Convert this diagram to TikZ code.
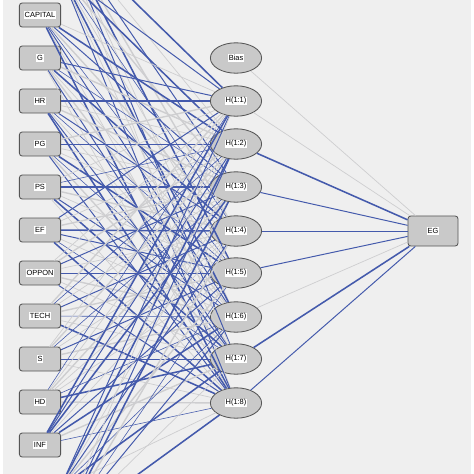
\documentclass[tikz,border=0pt]{standalone}
\usepackage{fontspec}
\setmainfont{Liberation Sans}
\usetikzlibrary{shapes.geometric}

\definecolor{bggray}{RGB}{239,239,239}
\definecolor{boxgray}{RGB}{201,201,201}
\definecolor{rimgray}{RGB}{85,85,85}
\definecolor{wblue}{RGB}{68,90,172}
\definecolor{wgray}{RGB}{206,206,208}

\newcommand{\lab}[1]{{\setlength{\fboxsep}{0.7pt}\colorbox{white}{#1}}}

\tikzset{
  inbox/.style={draw=rimgray, fill=boxgray, rounded corners=2pt, line width=0.6pt,
    minimum width=1.03cm, minimum height=0.6cm, inner sep=0pt},
  hid/.style={ellipse, draw=rimgray, fill=boxgray, line width=0.6pt,
    minimum width=1.28cm, minimum height=0.76cm, inner sep=0pt},
  outbox/.style={inbox, minimum width=1.25cm, minimum height=0.75cm},
  bthick/.style={draw=wblue, line width=1.1pt},
  bmid/.style={draw=wblue, line width=0.7pt},
  bthin/.style={draw=wblue, line width=0.4pt},
  gthick/.style={draw=wgray, line width=1pt},
  gthin/.style={draw=wgray, line width=0.5pt}
}

\begin{document}
\begin{tikzpicture}[x=0.025cm, y=-0.025cm, font=\fontsize{5.3}{6}\selectfont]

    \useasboundingbox (0,0) rectangle (474,474);
    \clip (0,0) rectangle (474,474);
    \fill[white] (0,0) rectangle (474,474);
    \fill[bggray] (3,0) rectangle (471,474);

    % input layer
    \coordinate (up1) at (60,-71);
    \coordinate (up2) at (60,-28);
    \node[inbox] (capital) at (40,15) {\lab{CAPITAL}};
    \node[inbox] (g) at (40,58) {\lab{G}};
    \node[inbox] (hr) at (40,101) {\lab{HR}};
    \node[inbox] (pg) at (40,144) {\lab{PG}};
    \node[inbox] (ps) at (40,187) {\lab{PS}};
    \node[inbox] (ef) at (40,230) {\lab{EF}};
    \node[inbox] (oppon) at (40,273) {\lab{OPPON}};
    \node[inbox] (tech) at (40,316) {\lab{TECH}};
    \node[inbox] (s) at (40,359) {\lab{S}};
    \node[inbox] (hd) at (40,402) {\lab{HD}};
    \node[inbox] (inf) at (40,445) {\lab{INF}};
    \coordinate (low1) at (60,488);
    \coordinate (low2) at (60,531);

    % hidden layer
    \node[hid] (bias) at (236,58) {\lab{Bias}};
    \node[hid] (h1) at (236,101) {\lab{H(1:1)}};
    \node[hid] (h2) at (236,144) {\lab{H(1:2)}};
    \node[hid] (h3) at (236,187) {\lab{H(1:3)}};
    \node[hid] (h4) at (236,231) {\lab{H(1:4)}};
    \node[hid] (h5) at (236,273) {\lab{H(1:5)}};
    \node[hid] (h6) at (236,317) {\lab{H(1:6)}};
    \node[hid] (h7) at (236,359) {\lab{H(1:7)}};
    \node[hid] (h8) at (236,403) {\lab{H(1:8)}};

    % output layer
    \node[outbox] (eg) at (433,231) {\lab{EG}};

    % input -> hidden weights
    \foreach \w [count=\i] in {bthick,gthin,bmid,gthick,bthick,gthin,bmid,gthin} \draw[\w] (up1) -- (h\i);
    \foreach \w [count=\i] in {bmid,bthick,gthick,bthin,gthin,bthick,gthin,bmid} \draw[\w] (up2) -- (h\i);
    \foreach \w [count=\i] in {gthin,bthick,bmid,gthick,bthin,bmid,gthin,bthick} \draw[\w] (capital) -- (h\i);
    \foreach \w [count=\i] in {bmid,gthick,bthin,bthick,gthin,gthick,bmid,gthin} \draw[\w] (g) -- (h\i);
    \foreach \w [count=\i] in {bthick,gthin,gthick,bmid,bthin,gthin,bmid,bthick} \draw[\w] (hr) -- (h\i);
    \foreach \w [count=\i] in {gthick,bmid,gthin,gthin,bthick,bthin,gthick,bmid} \draw[\w] (pg) -- (h\i);
    \foreach \w [count=\i] in {gthin,bthin,bthick,gthick,gthin,bmid,bthick,gthin} \draw[\w] (ps) -- (h\i);
    \foreach \w [count=\i] in {bmid,gthin,gthick,bthick,bmid,gthin,bthin,bthick} \draw[\w] (ef) -- (h\i);
    \foreach \w [count=\i] in {gthin,gthick,bmid,gthin,bthin,gthick,gthin,bmid} \draw[\w] (oppon) -- (h\i);
    \foreach \w [count=\i] in {gthick,bthin,gthin,bmid,gthick,bthin,gthin,bthick} \draw[\w] (tech) -- (h\i);
    \foreach \w [count=\i] in {gthin,gthick,bthin,gthin,bmid,gthick,bthin,gthin} \draw[\w] (s) -- (h\i);
    \foreach \w [count=\i] in {bthin,gthin,gthick,gthin,gthin,bthin,bthick,gthick} \draw[\w] (hd) -- (h\i);
    \foreach \w [count=\i] in {bthick,bmid,bthick,gthin,bmid,bthick,gthick,bthin} \draw[\w] (inf) -- (h\i);
    \foreach \w [count=\i] in {bmid,bthick,gthin,bmid,gthick,bthin,bthick,gthin} \draw[\w] (low1) -- (h\i);
    \foreach \w [count=\i] in {gthin,bmid,bthick,gthick,bthin,bmid,gthin,bthick} \draw[\w] (low2) -- (h\i);

    % hidden -> output weights
    \draw[gthin] (bias) -- (eg);
    \draw[gthin] (h1) -- (eg);
    \draw[bthick] (h2) -- (eg);
    \draw[bmid] (h3) -- (eg);
    \draw[bthin] (h4) -- (eg);
    \draw[bmid] (h5) -- (eg);
    \draw[gthin] (h6) -- (eg);
    \draw[bthick] (h7) -- (eg);
    \draw[bmid] (h8) -- (eg);

\end{tikzpicture}
\end{document}
